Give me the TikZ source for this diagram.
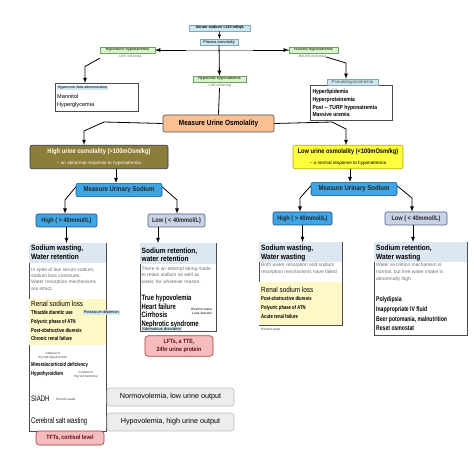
\documentclass[tikz,border=0pt]{standalone}
\usepackage{fontspec}
\setmainfont{Liberation Sans}
\newfontfamily\narrowfont[FakeStretch=0.75]{Liberation Sans}
\newfontfamily\semifont[FakeStretch=0.86]{Liberation Sans}
\newcommand\pxfont[2]{\fontsize{#1}{#2}\selectfont}

\definecolor{tagblue}{HTML}{CFE7EF}
\definecolor{tagline}{HTML}{7FA8B8}
\definecolor{tonicfill}{HTML}{D9F2D0}
\definecolor{tonicline}{HTML}{6FA060}
\definecolor{tonictext}{HTML}{1F4A12}
\definecolor{osmfill}{HTML}{FBC193}
\definecolor{olive}{HTML}{8A7E3A}
\definecolor{lemon}{HTML}{FFFF3C}
\definecolor{lemonline}{HTML}{B8A800}
\definecolor{skyfill}{HTML}{3FA6E6}
\definecolor{skyline}{HTML}{1B4E86}
\definecolor{paleblue}{HTML}{C9D3E8}
\definecolor{paleline}{HTML}{4E5E7A}
\definecolor{band}{HTML}{DDE7F2}
\definecolor{cream}{HTML}{FFF8C6}
\definecolor{rose}{HTML}{F5BDBD}
\definecolor{roseline}{HTML}{A33A3A}
\definecolor{rosetext}{HTML}{5C0E0E}
\definecolor{greytext}{HTML}{6E6E6E}

\begin{document}
\begin{tikzpicture}[x=1pt, y=-1pt, >=latex,
    link/.style={line width=0.8pt},
    tag/.style={draw=tagline, fill=tagblue, line width=0.4pt, inner sep=0.6pt, minimum height=6pt},
    tonic/.style={draw=tonicline, fill=tonicfill, line width=0.4pt, inner sep=0.8pt, minimum height=6pt,
        text=tonictext, font=\pxfont{3.6}{4}\bfseries},
    osmval/.style={font=\pxfont{3.4}{4}, text=black!60, inner sep=0},
    heading/.style={rounded corners=2pt, draw=black!70, line width=0.6pt, align=center},
    infobox/.style={draw=black!70, line width=0.7pt, fill=white, inner sep=0, anchor=north west},
    title/.style={font=\semifont\pxfont{7.6}{8.5}\bfseries, align=left, inner sep=0, anchor=north west},
    note/.style={font=\pxfont{4.9}{6.8}, text=greytext, align=left, inner sep=0, anchor=north west},
    sub/.style={font=\semifont\pxfont{7.4}{8}, inner sep=0, anchor=north west},
    items/.style={font=\narrowfont\pxfont{5.6}{8.9}\bfseries, align=left, inner sep=0, anchor=north west},
    mini/.style={font=\pxfont{3.2}{3.8}, align=center, inner sep=0, text=black!75},
    hilite/.style={fill=tagblue, inner sep=0.6pt, font=\pxfont{3.9}{4.5}},
    labtest/.style={rounded corners=3pt, draw=roseline, fill=rose, line width=0.6pt,
        font=\semifont\pxfont{6.1}{8.3}\bfseries, text=rosetext, align=center},
    output/.style={rounded corners=2.5pt, draw=black!25, fill=black!7, line width=0.6pt,
        font=\pxfont{7.2}{8}, minimum width=127pt, minimum height=18pt}]
\useasboundingbox (0,0) rectangle (474,465);

% plasma osmolality
\node[tag, font=\pxfont{3.8}{4}\bfseries, minimum width=61pt] (serum) at (220,28) {Serum sodium <135 mEq/L};
\node[tag, font=\pxfont{3.9}{4}, minimum width=38pt] (plasma) at (219,42) {Plasma osmolality};
\node[tonic, minimum width=55pt] (hyper) at (127.5,50) {Hypertonic hyponatremia};
\node[osmval] (hyperv) at (130,57) {>295 mOsm/kg};
\node[tonic, minimum width=53pt] (hypo) at (219.5,79) {Hypotonic hyponatremia};
\node[osmval] (hypov) at (219.5,86) {<280 mOsm/kg};
\node[tonic, minimum width=49pt] (iso) at (313.5,50) {Isotonic hyponatremia};
\node[osmval] (isov) at (312,57) {280-295 mOsm/kg};

\coordinate (osml) at (186,50);
\coordinate (osmr) at (253,50);
\draw[->, line width=0.5pt] (serum) -- (plasma);
\draw[black!40, line width=0.4pt] (hyper.east) -- (iso.west);
\draw[->, link] (osml) -- (hyper.east);
\draw[->, link] (osmr) -- (iso.west);
\draw[->, link] (plasma) -- (hypo);

% hypertonic
\node[infobox, minimum width=83pt, minimum height=28pt] (fluid) at (55,83) {};
\node[hilite, font=\pxfont{3.7}{4}, anchor=west] (fluidt) at (57,88) {Hypertonic fluid administration};
\node[font=\pxfont{5.6}{8.5}, align=left, inner sep=0, anchor=north west] (fluidl) at (57,94.2) {Mannitol\\Hyperglycemia};
\coordinate (kl) at (85,66.5);
\draw[->, link] ([yshift=-5pt]hyper.south west) -- (kl) -- (kl |- fluid.north);

% isotonic
\node[infobox, minimum width=82pt, minimum height=35pt] (isolist) at (310,85) {};
\node[tag, font=\pxfont{4.4}{5}, text=black!70, minimum width=51pt] (pseudo) at (352.5,82) {Pseudohyponatremia};
\node[font=\semifont\pxfont{5.8}{7.7}\bfseries, align=left, inner sep=0, anchor=north west] (pseudol) at (312.3,89.2)
    {Hyperlipidemia\\Hyperproteinemia\\Post -- TURP hyponatremia\\Massive uremia};
\coordinate (kr) at (346,63);
\draw[->, link] (isov.east) -- (kr) -- (kr |- pseudo.north);

% urine osmolality
\node[heading, fill=osmfill, minimum width=111pt, minimum height=17pt, font=\semifont\pxfont{7.5}{8}\bfseries] (muo) at (218.5,123.5) {Measure Urine Osmolality};
\draw[link] (hypov.south) -- (muo.north);
\node[heading, fill=olive, draw=black!80, minimum width=138pt, minimum height=20pt, text=yellow!8] (huo) at (99,157)
    {{\semifont\pxfont{6.7}{7}\bfseries High urine osmolality (>100mOsm/kg)}\\[-1pt]{\pxfont{4.6}{5}-- an abnormal response to hyponatremia}};
\node[heading, fill=lemon, draw=lemonline, minimum width=110pt, minimum height=22pt] (luo) at (348,157)
    {{\semifont\pxfont{6.6}{7}\bfseries Low urine osmolality (<100mOsm/kg)}\\[-1pt]{\pxfont{4.6}{5}-- a normal response to hyponatremia}};
\coordinate (ul1) at (104,122);
\coordinate (ul2) at (84,131);
\coordinate (ur1) at (332,122);
\coordinate (ur2) at (346,129);
\draw[->, link] (muo.west) -- (ul1) -- (ul2) -- (ul2 |- huo.north);
\draw[->, link] (muo.east) -- (ur1) -- (ur2) -- (ur2 |- luo.north);

% urinary sodium
\node[heading, fill=skyfill, draw=skyline, minimum width=86pt, minimum height=12pt, font=\semifont\pxfont{7}{7}\bfseries, text=black!85] (mus1) at (119,190) {Measure Urinary Sodium};
\node[heading, fill=skyfill, draw=skyline, minimum width=86pt, minimum height=12pt, font=\semifont\pxfont{7}{7}\bfseries, text=black!85] (mus2) at (354,189) {Measure Urinary Sodium};
\draw[->, link] ([xshift=-3pt]mus1.north |- huo.south) -- ([xshift=-3pt]mus1.north);
\draw[->, link] ([xshift=-4pt]mus2.north |- luo.south) -- ([xshift=-4pt]mus2.north);

\node[heading, fill=skyfill, draw=skyline, minimum width=61pt, minimum height=13pt, font=\semifont\pxfont{6.5}{7}\bfseries, text=black!85] (high1) at (66.5,220.5) {High ( > 40mmol/L)};
\node[heading, fill=paleblue, draw=paleline, minimum width=57pt, minimum height=13pt, font=\semifont\pxfont{6.5}{7}\bfseries, text=black!85] (low1) at (176.5,220.5) {Low ( < 40mmol/L)};
\node[heading, fill=skyfill, draw=skyline, minimum width=59pt, minimum height=13pt, font=\semifont\pxfont{6.5}{7}\bfseries, text=black!85] (high2) at (302.5,218.5) {High ( > 40mmol/L)};
\node[heading, fill=paleblue, draw=paleline, minimum width=62pt, minimum height=13pt, font=\semifont\pxfont{6.5}{7}\bfseries, text=black!85] (low2) at (416,218.5) {Low ( < 40mmol/L)};
\coordinate (k1) at (65,200);
\coordinate (k2) at (177,200);
\coordinate (k3) at (300,198);
\coordinate (k4) at (412,198);
\draw[->, link] ([yshift=3pt]mus1.west) -- (k1) -- (k1 |- high1.north);
\draw[->, link] ([yshift=3pt]mus1.east) -- (k2) -- (k2 |- low1.north);
\draw[->, link] ([yshift=3pt]mus2.west) -- (k3) -- (k3 |- high2.north);
\draw[->, link] ([yshift=3pt]mus2.east) -- (k4) -- (k4 |- low2.north);

% sodium wasting, water retention
\node[infobox, minimum width=77pt, minimum height=188pt] (wr1) at (29,243) {};
\fill[band] (29.4,243.4) rectangle (105.6,263);
\fill[cream] (29.4,299) rectangle (105.6,345);
\node[title] (wr1t) at (31,245.2) {Sodium wasting,\\Water retention};
\node[note, font=\pxfont{4.9}{6.4}] (wr1n) at (31,267.3) {In spite of low serum sodium,\\sodium loss continues.\\Water resorption mechanisms\\are intact.};
\node[sub] (wr1s) at (31,301) {Renal sodium loss};
\node[items] (wr1i) at (31,310) {Thiazide diuretic use\\Polyuric phase of ATN\\Post-obstructive diuresis\\Chronic renal failure};
\node[hilite, anchor=west] (kdep) at (83,312.3) {Potassium depletion};
\node[mini] (adr) at (53,355.8) {Adrenal or\\thyroid hypofunction};
\node[items, anchor=west] (mcd) at (31,365) {Mineralocorticoid deficiency};
\node[items, anchor=west] (hthy) at (31,374.5) {Hypothyroidism};
\node[mini] (cort) at (86,374.5) {Cortisol or\\thyroid hormone};
\node[font=\narrowfont\pxfont{8}{9}, inner sep=0, anchor=west] (siadh) at (31,399) {SIADH};
\node[mini, anchor=west] (rw1) at (56,399) {Restrict water};
\node[font=\narrowfont\pxfont{8}{9}, inner sep=0, anchor=west] (csw) at (31,421) {Cerebral salt wasting};
\draw[->, link] (high1) -- (high1 |- wr1.north);
\node[labtest, minimum width=68pt, minimum height=14pt] (tft) at (70,438) {TFTs, cortisol level};

% sodium retention, water retention
\node[infobox, minimum width=76pt, minimum height=88pt] (wr2) at (140,243) {};
\fill[band] (140.4,243.4) rectangle (215.6,264);
\node[title, font=\semifont\pxfont{7.6}{8.6}\bfseries] (wr2t) at (141.5,247.6) {Sodium retention,\\water retention};
\node[note] (wr2n) at (141.5,266.3) {There is an attempt being made\\to retain sodium as well as\\water, for whatever reason.};
\node[items, font=\narrowfont\pxfont{7.8}{8.8}\bfseries] (wr2i) at (141.5,294.4) {True hypovolemia\\Heart failure\\Cirrhosis\\Nephrotic syndrome};
\node[hilite, anchor=west, font=\pxfont{4.1}{4.5}] (edem) at (141.5,329.3) {Edematous disorders};
\node[mini, font=\pxfont{3.2}{4}\bfseries] (rw2) at (202,311.5) {Restrict water\\Loop diuretic};
\draw[->, link] ([xshift=-18.5pt]low1.south) -- ([xshift=-18.5pt]low1.south |- wr2.north);
\node[labtest, minimum width=68pt, minimum height=20pt] (lft) at (179,346) {LFTs, a TTE,\\24hr urine protein};

% volume status
\node[output] (normo) at (170.5,397) {Normovolemia, low urine output};
\node[output] (hypovol) at (170.5,422) {Hypovolemia, high urine output};

% sodium wasting, water wasting
\node[infobox, minimum width=83pt, minimum height=83pt] (ww1) at (259,242) {};
\fill[band] (259.4,242.4) rectangle (341.6,262);
\fill[cream] (259.4,281.5) rectangle (341.6,324.6);
\node[title] (ww1t) at (261,245.2) {Sodium wasting,\\Water wasting};
\node[note] (ww1n) at (261,263) {Both water resorption and sodium\\resorption mechanisms have failed};
\node[sub] (ww1s) at (261,287) {Renal sodium loss};
\node[items, font=\narrowfont\pxfont{5.6}{9}\bfseries] (ww1i) at (261,296) {Post-obstructive diuresis\\Polyuric phase of ATN\\Acute renal failure};
\node[mini, anchor=west] (rw3) at (261,329) {Restrict water};
\draw[->, link] (high2) -- (high2 |- ww1.north);

% sodium retention, water wasting
\node[infobox, minimum width=93pt, minimum height=93pt] (ww2) at (374,242) {};
\fill[band] (374.4,242.4) rectangle (466.6,262);
\node[title] (ww2t) at (376,245.2) {Sodium retention,\\Water wasting};
\node[note] (ww2n) at (376,263) {Water excretion mechanism is\\normal, but free water intake is\\abnormally high};
\node[items, font=\narrowfont\pxfont{6.8}{9.8}\bfseries] (ww2i) at (376,296.3) {Polydipsia\\Inappropriate IV fluid\\Beer potomania, malnutrition\\Reset osmostat};
\draw[->, link] ([xshift=-3pt]low2.south) -- ([xshift=-3pt]low2.south |- ww2.north);
\end{tikzpicture}
\end{document}
